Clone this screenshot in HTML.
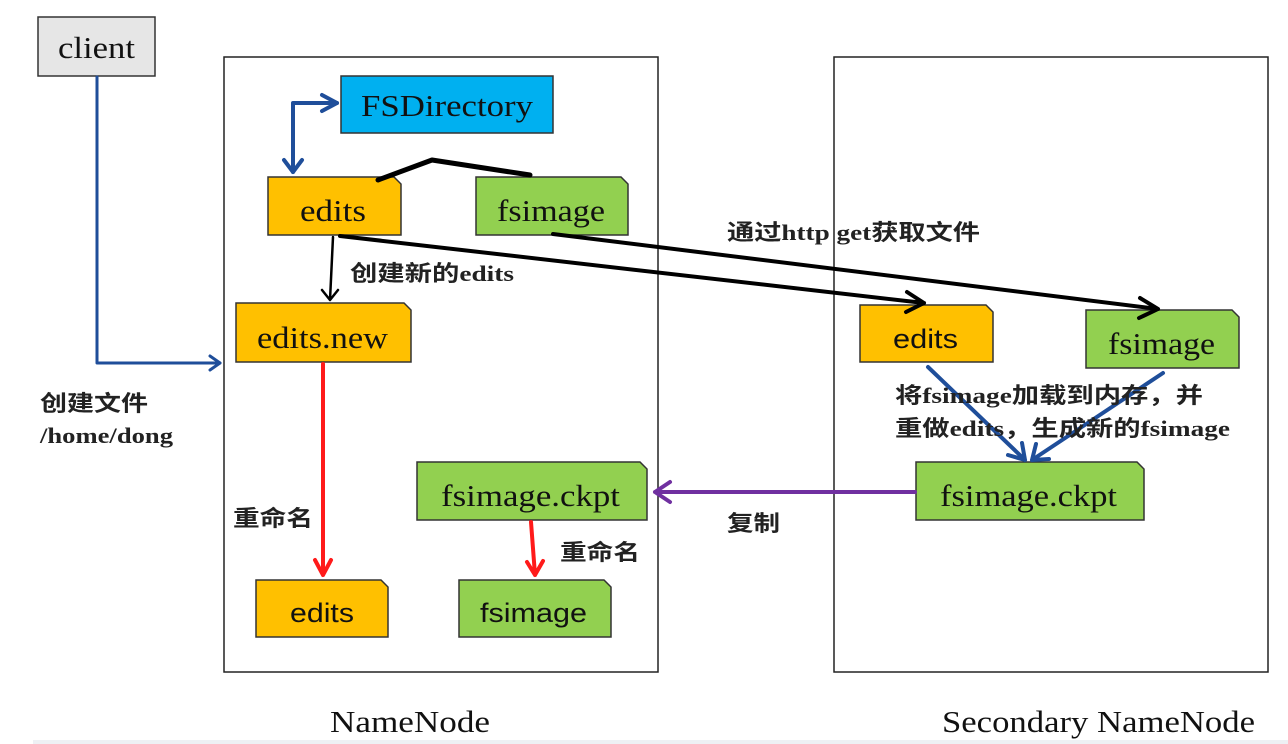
<!DOCTYPE html>
<html><head><meta charset="utf-8"><style>
html,body{margin:0;padding:0;background:#fff;width:1288px;height:744px;overflow:hidden}
svg{display:block}
.s{font-family:"Liberation Serif","Noto Serif CJK SC",serif;font-size:31px;fill:#111}
.a{font-family:"Liberation Sans",sans-serif;font-size:27px;fill:#111}
.c{font-family:"Liberation Serif","Noto Sans CJK SC",serif;font-size:22px;fill:#222;font-weight:bold}
</style></head><body>
<svg width="1288" height="744" viewBox="0 0 1288 744" xmlns="http://www.w3.org/2000/svg">
<style>.bx{stroke:#333;stroke-width:1.5}</style>
<rect x="33" y="740" width="1255" height="4" fill="#eef0f4"/>
<rect x="38" y="17" width="117" height="59" fill="#e6e6e6" class="bx"/>
<text x="58" y="58" class="s" textLength="77" lengthAdjust="spacingAndGlyphs">client</text>
<rect x="224" y="57" width="434" height="615" fill="none" stroke="#222" stroke-width="1.5"/>
<rect x="834" y="57" width="434" height="615" fill="none" stroke="#222" stroke-width="1.5"/>
<rect x="341" y="76" width="212" height="57" fill="#00b0f0" class="bx"/>
<text x="361" y="116" class="s" textLength="172" lengthAdjust="spacingAndGlyphs">FSDirectory</text>
<g class="bx">
<path d="M268,177 H394 L401,184 V235 H268Z" fill="#ffc000"/>
<path d="M476,177 H621 L628,184 V235 H476Z" fill="#92d050"/>
<path d="M236,303 H404 L411,310 V362 H236Z" fill="#ffc000"/>
<path d="M417,462 H640 L647,469 V520 H417Z" fill="#92d050"/>
<path d="M256,580 H381 L388,587 V637 H256Z" fill="#ffc000"/>
<path d="M459,580 H604 L611,587 V637 H459Z" fill="#92d050"/>
<path d="M860,305 H986 L993,312 V362 H860Z" fill="#ffc000"/>
<path d="M1086,310 H1232 L1239,317 V368 H1086Z" fill="#92d050"/>
<path d="M916,462 H1137 L1144,469 V520 H916Z" fill="#92d050"/>
</g>
<text x="300" y="221" class="s" textLength="66" lengthAdjust="spacingAndGlyphs">edits</text>
<text x="497" y="221" class="s" textLength="108" lengthAdjust="spacingAndGlyphs">fsimage</text>
<text x="257" y="348" class="s" textLength="131" lengthAdjust="spacingAndGlyphs">edits.new</text>
<text x="441" y="506" class="s" textLength="179" lengthAdjust="spacingAndGlyphs">fsimage.ckpt</text>
<text x="290" y="622" class="a" textLength="64" lengthAdjust="spacingAndGlyphs">edits</text>
<text x="480" y="622" class="a" textLength="107" lengthAdjust="spacingAndGlyphs">fsimage</text>
<text x="893" y="348" class="a" textLength="65" lengthAdjust="spacingAndGlyphs">edits</text>
<text x="1108" y="354" class="s" textLength="107" lengthAdjust="spacingAndGlyphs">fsimage</text>
<text x="940" y="506" class="s" textLength="177" lengthAdjust="spacingAndGlyphs">fsimage.ckpt</text>
<g fill="none" stroke-linecap="round" stroke-linejoin="round">
<path d="M97,77 V363 H220" stroke="#1f4e9a" stroke-width="3"/>
<path d="M210,356 L220,363 L210,370" stroke="#1f4e9a" stroke-width="3"/>
<path d="M337,103 H293 V172" stroke="#1f4e9a" stroke-width="4"/>
<path d="M322,95 L337,103 L322,111 M284,160 L293,172 L302,160" stroke="#1f4e9a" stroke-width="4"/>
<path d="M378,180 L432,160 L530,175" stroke="#000" stroke-width="5"/>
<path d="M333,237 L330,300 M322,290 L330,300 L338,290" stroke="#000" stroke-width="2.5"/>
<path d="M340,236 L924,303 M907,292 L924,303 L906,312" stroke="#000" stroke-width="4"/>
<path d="M553,234 L1158,309 M1140,298 L1158,309 L1139,318" stroke="#000" stroke-width="4"/>
<path d="M323,364 V575 M315,560 L323,575 L331,560" stroke="#ff1a1a" stroke-width="4"/>
<path d="M531,522 L535,575 M527,562 L535,575 L543,561" stroke="#ff1a1a" stroke-width="4"/>
<path d="M928,367 L1025,460 M1022,443 L1025,460 L1008,455" stroke="#1f4e9a" stroke-width="4"/>
<path d="M1163,373 L1032,460 M1036,444 L1032,460 L1049,459" stroke="#1f4e9a" stroke-width="4"/>
<path d="M915,492 H655 M670,482 L655,492 L670,502" stroke="#7030a0" stroke-width="4"/>
</g>
<text x="727" y="240" class="c" textLength="253" lengthAdjust="spacingAndGlyphs">通过http get获取文件</text>
<text x="350" y="281" class="c" textLength="164" lengthAdjust="spacingAndGlyphs">创建新的edits</text>
<text x="40" y="411" class="c" textLength="108" lengthAdjust="spacingAndGlyphs">创建文件</text>
<text x="40" y="443" class="c" textLength="133" lengthAdjust="spacingAndGlyphs">/home/dong</text>
<text x="895" y="403" class="c" textLength="308" lengthAdjust="spacingAndGlyphs">将fsimage加载到内存，并</text>
<text x="895" y="436" class="c" textLength="335" lengthAdjust="spacingAndGlyphs">重做edits，生成新的fsimage</text>
<text x="727" y="531" class="c" textLength="53" lengthAdjust="spacingAndGlyphs">复制</text>
<text x="233" y="526" class="c" textLength="80" lengthAdjust="spacingAndGlyphs">重命名</text>
<text x="560" y="560" class="c" textLength="80" lengthAdjust="spacingAndGlyphs">重命名</text>
<text x="330" y="732" class="s" textLength="160" lengthAdjust="spacingAndGlyphs">NameNode</text>
<text x="942" y="732" class="s" textLength="313" lengthAdjust="spacingAndGlyphs">Secondary NameNode</text>
</svg>
</body></html>
